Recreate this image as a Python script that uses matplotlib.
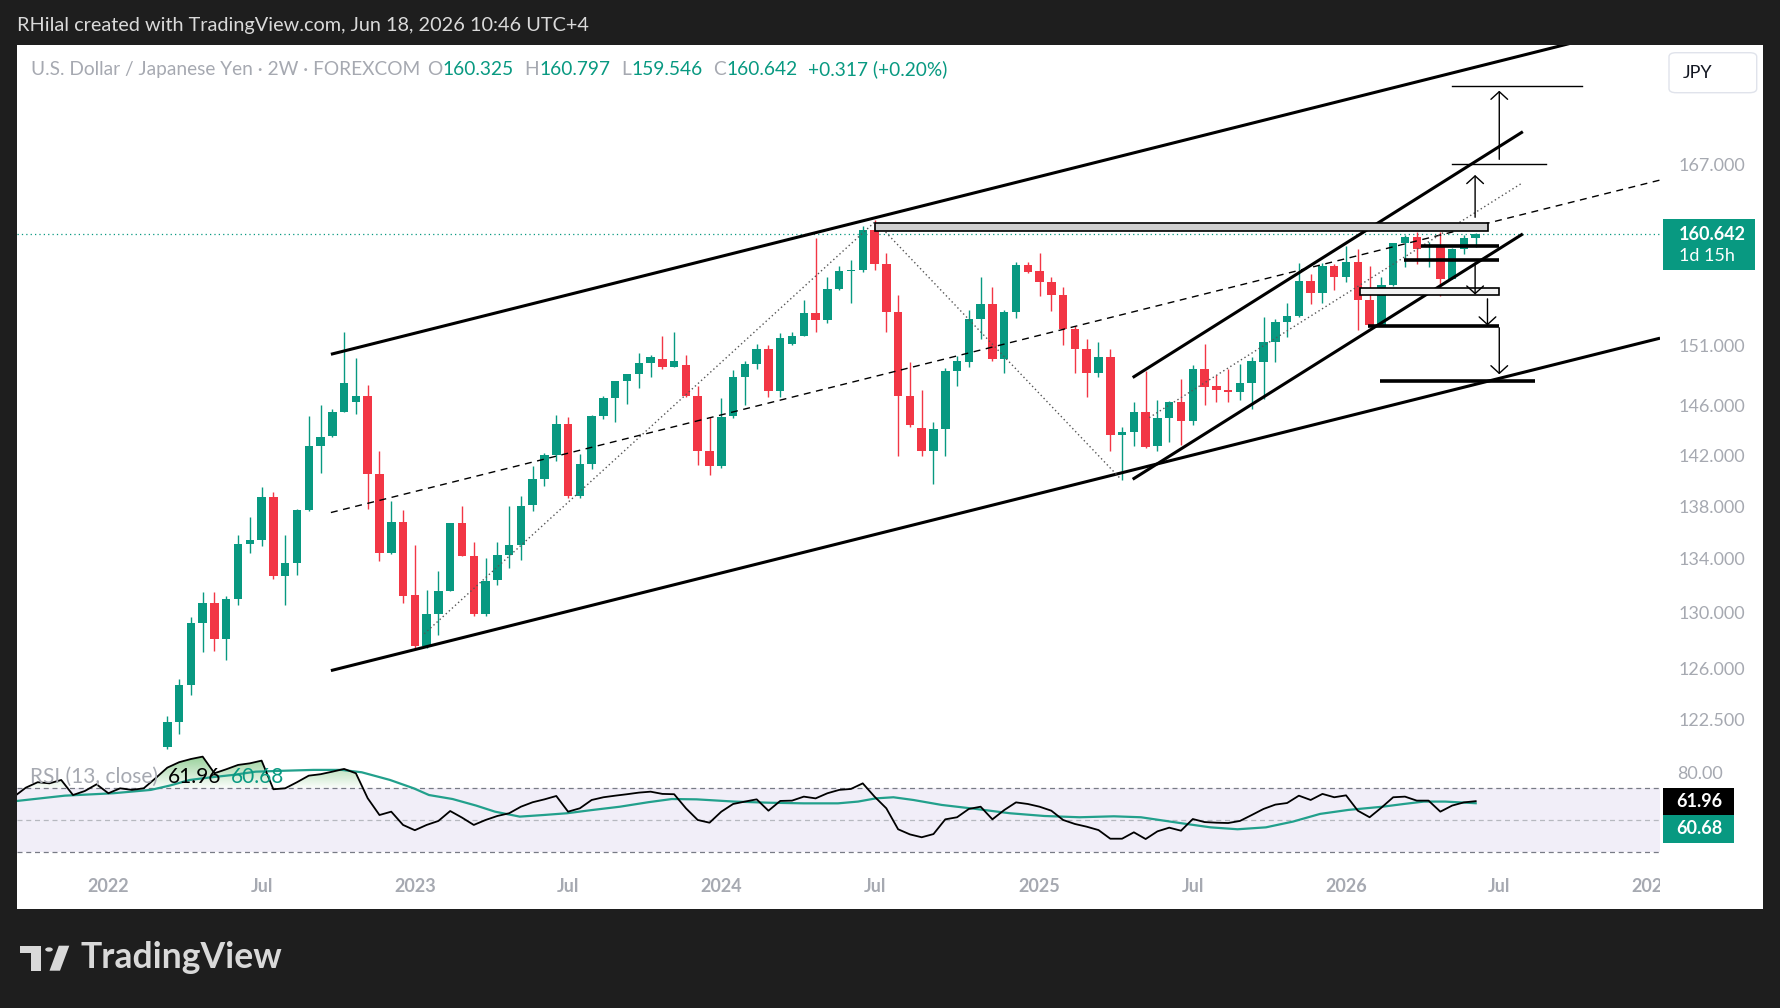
import numpy as np
import pandas as pd
import matplotlib
matplotlib.use("Agg")
import matplotlib.pyplot as plt
from matplotlib.patches import Rectangle, FancyBboxPatch, Polygon, Circle
from matplotlib.path import Path
from matplotlib.ticker import NullLocator
from matplotlib.colors import to_rgb

plt.rcParams["font.family"] = ["Lato", "DejaVu Sans"]

W, H = 1781, 1008
GREEN = "#089981"
RED = "#f23645"
TEAL = "#22a08c"
GREY_TXT = "#a6a9b1"

# ---- data: USDJPY 2W candles, first bar starts 2022-03-14 ----
FIRST_BAR = "2022-03-14"

opens = [120.6, 122.3, 124.9, 129.3, 130.7, 128.1, 131.0, 135.1, 135.4, 138.7,
         132.7, 133.7, 137.7, 142.7, 143.5, 145.5, 146.3, 146.8, 140.5, 134.4,
         136.8, 131.3, 127.6, 129.9, 131.6, 136.7, 134.2, 129.9, 132.4, 134.3,
         135.0, 138.1, 140.1, 142.0, 144.5, 138.8, 141.3, 145.1, 146.6, 148.0,
         148.6, 149.5, 149.8, 149.2, 149.3, 146.8, 142.3, 141.1, 145.1, 148.3,
         149.4, 150.7, 147.2, 151.1, 151.8, 153.7, 153.1, 155.8, 157.4, 157.5,
         161.05, 158.0, 153.8, 146.8, 144.2, 142.3, 144.1, 148.8, 149.6, 153.2,
         154.5, 149.8, 153.8, 157.9, 157.4, 156.45, 155.3, 152.4, 150.7, 148.7,
         150.0, 143.6, 143.85, 145.5, 142.7, 145.0, 146.3, 144.7, 149.0, 147.6,
         147.3, 147.1, 147.8, 149.6, 151.3, 153.0, 153.5, 156.5, 155.5, 157.85,
         156.9, 158.2, 154.9, 152.7, 156.2, 159.9, 160.4, 159.6, 159.5, 156.7,
         159.35, 160.325]
highs = [122.7, 125.3, 129.7, 131.5, 131.55, 131.25, 135.8, 137.2, 139.5, 139.1,
         135.8, 137.8, 145.1, 146.0, 145.7, 152.1, 149.9, 147.7, 142.3, 138.4,
         137.7, 135.0, 131.7, 133.1, 136.7, 138.05, 135.3, 134.05, 135.3, 138.0,
         138.8, 141.1, 142.2, 145.2, 145.05, 142.1, 145.2, 146.8, 148.0, 148.6,
         150.3, 150.15, 151.8, 152.1, 150.15, 147.6, 145.05, 146.6, 148.9, 149.7,
         151.1, 151.0, 152.0, 152.1, 154.9, 160.3, 156.9, 157.85, 158.4, 161.4,
         161.9, 159.0, 155.3, 149.6, 147.3, 144.65, 149.1, 150.1, 154.0, 156.9,
         156.0, 154.0, 158.2, 158.2, 159.0, 156.9, 156.0, 152.6, 151.5, 151.3,
         150.65, 144.25, 146.3, 148.8, 146.4, 146.35, 148.15, 149.3, 151.1, 148.5,
         149.0, 149.4, 150.0, 153.4, 153.2, 154.6, 158.1, 157.1, 158.1, 158.0,
         159.6, 159.35, 157.8, 156.9, 159.9, 160.6, 160.9, 160.0, 160.9, 159.4,
         160.6, 160.797]
lows = [120.5, 121.5, 124.2, 127.2, 127.3, 126.6, 130.6, 134.4, 134.95, 132.5,
        130.6, 132.8, 137.6, 140.6, 143.45, 145.45, 145.3, 137.8, 133.8, 134.35,
        130.7, 127.5, 127.5, 128.4, 131.6, 134.2, 129.8, 129.8, 132.05, 133.3,
        133.9, 137.6, 139.6, 141.5, 138.6, 138.6, 140.9, 144.9, 144.65, 146.1,
        147.4, 148.3, 149.0, 149.2, 146.7, 141.2, 140.45, 141.0, 145.0, 146.0,
        149.0, 146.7, 146.7, 151.0, 151.8, 152.1, 152.9, 155.7, 154.6, 157.3,
        157.5, 152.1, 141.9, 144.25, 141.95, 139.75, 141.9, 147.6, 149.2, 151.5,
        149.65, 148.7, 153.35, 157.2, 155.2, 153.9, 151.0, 148.7, 146.7, 148.3,
        142.3, 140.0, 142.7, 142.6, 142.3, 143.05, 142.8, 144.4, 146.0, 146.3,
        146.3, 146.4, 145.7, 146.5, 149.6, 151.7, 153.4, 154.5, 154.6, 155.7,
        156.4, 152.25, 152.6, 152.6, 156.1, 157.7, 158.0, 157.7, 155.2, 156.7,
        158.9, 159.546]
closes = [122.3, 124.9, 129.3, 130.7, 128.1, 131.0, 135.1, 135.4, 138.7, 132.7,
          133.7, 137.7, 142.7, 143.45, 145.5, 147.8, 146.8, 140.5, 134.4, 136.8,
          131.25, 127.6, 129.95, 131.6, 136.7, 134.2, 129.9, 132.35, 134.3, 135.0,
          138.05, 140.1, 142.0, 144.5, 138.8, 141.3, 145.1, 146.6, 148.0, 148.6,
          149.5, 150.0, 149.2, 149.7, 146.8, 142.3, 141.1, 145.05, 148.3, 149.4,
          150.65, 147.2, 151.6, 151.75, 153.7, 153.1, 155.8, 157.4, 157.5, 161.05,
          158.0, 153.8, 146.8, 144.4, 142.3, 144.1, 148.8, 149.65, 153.2, 154.5,
          149.8, 153.8, 157.9, 157.3, 156.4, 155.25, 152.4, 150.65, 148.7, 150.0,
          143.6, 143.85, 145.5, 142.65, 145.0, 146.3, 144.7, 149.0, 147.5, 147.25,
          147.1, 147.8, 149.65, 151.3, 153.0, 153.5, 156.5, 155.5, 157.85, 156.9,
          158.2, 154.9, 152.7, 156.2, 159.9, 160.4, 159.35, 159.7, 156.7, 159.35,
          160.325, 160.642]

# RSI(13) read per bar, starting 13 bars before the first candle
RSI_FIRST_BAR = -13
rsi_values = [64.8, 70.4, 73.8, 73.1, 75.2, 65.8, 68.3, 72.5, 66.9, 70.0,
              69.0, 70.0, 76.3, 82.9, 86.3, 88.3, 89.8, 79.4, 81.9, 84.6,
              85.6, 87.3, 69.4, 70.0, 73.8, 77.9, 78.8, 80.4, 82.1, 79.4,
              63.8, 53.3, 55.4, 47.1, 43.8, 47.1, 49.6, 55.8, 51.7, 47.1,
              50.2, 52.7, 54.4, 58.5, 61.3, 63.1, 65.2, 55.4, 57.5, 62.7,
              64.4, 65.4, 66.3, 67.3, 67.9, 66.5, 66.3, 57.5, 50.2, 48.5,
              55.4, 60.2, 61.7, 63.1, 56.0, 62.1, 62.3, 64.8, 63.7, 66.9,
              69.0, 69.6, 73.1, 64.8, 57.5, 44.4, 41.2, 39.4, 41.4, 50.6,
              51.9, 57.1, 58.5, 50.6, 56.4, 61.2, 60.2, 58.5, 56.0, 50.2,
              47.7, 46.0, 43.9, 38.5, 38.5, 42.5, 38.3, 43.1, 45.4, 43.5,
              50.8, 48.9, 48.5, 48.3, 49.6, 53.3, 57.1, 59.8, 60.8, 65.4,
              62.7, 66.5, 64.4, 65.6, 56.0, 51.9, 57.9, 64.4, 64.8, 62.3,
              62.3, 55.4, 59.2, 61.2, 61.96]

# RSI-based moving average, read at these bar positions
rsi_ma_bars = [-12.75, -8.7, -4.6, -1.4, 0.2, 1.9, 3.5, 5.5, 7.5, 10, 12.4, 14.8,
               16.5, 18.9, 20.9, 22.2, 24.2, 26.2, 27.8, 29.9, 31.9, 33.9, 35.9,
               38.4, 40.8, 42.8, 44.9, 48.1, 51.0, 54.0, 56.9, 58.6, 60.1, 61.6,
               63.3, 65.7, 68.6, 71.5, 74.4, 77.4, 80.3, 82.6, 86.1, 88.5, 90.8,
               93.2, 95.5, 97.8, 100.2, 103.1, 104.9, 106.6, 108.4, 111]
rsi_ma_values = [62.1, 65.4, 66.9, 69.0, 71.7, 75.2, 76.7, 78.3, 80.4, 81.0, 81.5,
                 81.5, 80.0, 75.2, 70.0, 65.8, 63.3, 59.2, 55.4, 52.3, 53.3, 54.4,
                 56.3, 58.5, 61.3, 63.3, 63.1, 61.7, 61.0, 60.6, 60.6, 61.7, 63.7,
                 64.4, 62.7, 59.6, 57.1, 54.4, 52.7, 51.9, 52.5, 51.9, 48.1, 45.6,
                 44.4, 45.6, 49.2, 54.0, 56.5, 58.5, 60.2, 61.7, 61.7, 60.68]

price_ticks = [167, 151, 146, 142, 138, 134, 130, 126, 122.5]

# ---- drawings on the chart, as (bar, price) anchors ----
upper_channel = [(13.88, 150.23), (121.55, 179.5)]
lower_channel = [(13.88, 125.88), (126.64, 151.59)]
mid_channel = [(13.88, 137.51), (126.64, 165.6)]
inner_upper = [(81.9, 148.29), (115.0, 170.14)]
inner_lower = [(81.9, 140.09), (115.0, 160.69)]
zigzag = [[(21.8, 128.5), (60.03, 161.77)],
          [(60.45, 161.4), (80.9, 140.1)],
          [(83.3, 145.0), (114.9, 165.3)]]
thick_levels = [(106.4, 113.0, 159.64), (104.9, 113.0, 158.32),
                (101.9, 113.0, 152.61), (102.9, 116.0, 148.0)]
thin_levels = [(109.0, 120.0, 174.54), (109.0, 117.0, 167.07)]
arrows = [(113.0, 167.53, 174.08), (110.95, 162.19, 166.07),
          (110.95, 158.1, 155.33), (112.0, 154.96, 152.67),
          (113.0, 152.47, 148.56)]
zones = [(60.03, 112.02, 160.96, 161.7, "#cfcfcf"),
         (101.2, 113.0, 155.25, 155.93, "#f2f2f2")]


def fx(x):
    return x / W


def fy(y):
    return 1 - y / H


def px_rect(x0, y0, x1, y1):
    return [fx(x0), fy(y1), (x1 - x0) / W, (y1 - y0) / H]


fig = plt.figure(figsize=(W / 100, H / 100), dpi=100, facecolor="#1e1e1e")
fig.patches.append(Rectangle((fx(17), fy(909)), (1763 - 17) / W, (909 - 45) / H,
                             transform=fig.transFigure, facecolor="white",
                             edgecolor="none", zorder=-5))

# ---- price pane ----
ax = fig.add_axes(px_rect(17, 45, 1660, 909))
ax.patch.set_visible(False)
for s in ax.spines.values():
    s.set_visible(False)
ax.set_yscale("log")

o = np.array(opens)
h = np.array(highs)
l = np.array(lows)
c = np.array(closes)
x = np.arange(len(c))
cols = np.where(c >= o, GREEN, RED)
ax.vlines(x, l, h, colors=cols, lw=1.0, zorder=3)
ax.bar(x, np.maximum(np.abs(c - o), 0.07), 0.72, bottom=np.minimum(o, c),
       color=cols, lw=0, zorder=4)

# last price line
ax.axhline(closes[-1], color=GREEN, lw=0.9, ls=(0, (1, 2.5)), zorder=2)

# channels and drawings
for pts, lw, ls in [(upper_channel, 2.2, "-"), (lower_channel, 2.2, "-"),
                    (inner_upper, 2.2, "-"), (inner_lower, 2.2, "-"),
                    (mid_channel, 1.0, (0, (5, 4)))]:
    (x0, y0), (x1, y1) = pts
    ax.plot([x0, x1], [y0, y1], color="black", lw=lw, ls=ls,
            solid_capstyle="butt", zorder=5)
for (x0, y0), (x1, y1) in zigzag:
    ax.plot([x0, x1], [y0, y1], color="#555555", lw=1.0, ls=(0, (1, 2)), zorder=5)
for x0, x1, y in thick_levels:
    ax.plot([x0, x1], [y, y], color="black", lw=2.6, solid_capstyle="butt", zorder=6)
for x0, x1, y in thin_levels:
    ax.plot([x0, x1], [y, y], color="black", lw=1.0, zorder=6)
for xa, y0, y1 in arrows:
    ax.annotate("", xy=(xa, y1), xytext=(xa, y0),
                arrowprops=dict(arrowstyle="->,head_length=0.55,head_width=0.6",
                                color="black", lw=1.0, shrinkA=0, shrinkB=0,
                                mutation_scale=10), zorder=6)
for x0, x1, y0, y1, fc in zones:
    ax.add_patch(Rectangle((x0, y0), x1 - x0, y1 - y0, facecolor=fc,
                           edgecolor="black", lw=1.2, zorder=5))

ax.set_xlim(-12.751, 126.636)
ax.set_ylim(110.172, 178.588)
ax.yaxis.tick_right()
ax.set_yticks(price_ticks)
ax.set_yticklabels([f"{v:.3f}" for v in price_ticks])
ax.yaxis.set_minor_locator(NullLocator())
ax.tick_params(axis="y", length=0, pad=13, labelsize=13, labelcolor=GREY_TXT)
ax.set_xticks([])

# time axis labels (first bar of January / July)
idx = np.arange(-13, 128)
dates = pd.Timestamp(FIRST_BAR) + pd.to_timedelta(14 * idx, unit="D")
for k in range(1, len(idx)):
    d, prev = dates[k], dates[k - 1]
    if d.month != prev.month and d.month in (1, 7):
        lab = str(d.year) if d.month == 1 else "Jul"
        ax.text(idx[k], (909 - 886) / 864, lab, transform=ax.get_xaxis_transform(),
                ha="center", va="center", fontsize=13, color=GREY_TXT,
                fontweight="bold", clip_on=True)

# ---- RSI pane ----
rax = fig.add_axes(px_rect(17, 740, 1660, 860))
rax.patch.set_visible(False)
for s in rax.spines.values():
    s.set_visible(False)
rsi_x = np.arange(RSI_FIRST_BAR, RSI_FIRST_BAR + len(rsi_values))
rsi = np.array(rsi_values)
rax.axhspan(30, 70, color="#f1eef8", lw=0, zorder=0)
rax.axhline(70, color="#787b86", lw=0.9, ls=(0, (4, 3)), zorder=1)
rax.axhline(50, color="#b6b8bf", lw=0.9, ls=(0, (4, 3)), zorder=1)
rax.axhline(30, color="#787b86", lw=0.9, ls=(0, (4, 3)), zorder=1)

over = rax.fill_between(rsi_x, rsi, 70, where=rsi > 70, interpolate=True,
                        facecolor="none", edgecolor="none")
grad = np.zeros((100, 2, 4))
grad[..., :3] = to_rgb("#4caf50")
grad[..., 3] = np.linspace(0.03, 0.65, 100)[:, None]
im = rax.imshow(grad, extent=(rsi_x[0], rsi_x[-1], 70, 92), origin="lower",
                aspect="auto", zorder=1, interpolation="bilinear")
im.set_clip_path(Path.make_compound_path(*over.get_paths()), transform=rax.transData)

rax.plot(rsi_ma_bars, rsi_ma_values, color=TEAL, lw=1.6, zorder=2)
rax.plot(rsi_x, rsi, color="black", lw=1.3, zorder=3)
rax.set_xlim(-12.751, 126.636)
rax.set_ylim(25.19, 100.19)
rax.set_xticks([])
rax.yaxis.tick_right()
rax.set_yticks([80])
rax.set_yticklabels(["80.00"])
rax.tick_params(axis="y", length=0, pad=12, labelsize=13, labelcolor=GREY_TXT)

renderer = fig.canvas.get_renderer()


def text_run(x_px, y_px, parts, size):
    xp = x_px
    for s, color, gap in parts:
        t = fig.text(fx(xp), fy(y_px), s, color=color, fontsize=size,
                     ha="left", va="center")
        xp += t.get_window_extent(renderer).width + gap


# header bar and legend texts
fig.text(fx(17), fy(25.5), "RHilal created with TradingView.com, Jun 18, 2026 10:46 UTC+4",
         color="#dadada", fontsize=14.3, ha="left", va="center")
text_run(31, 69.5, [("U.S. Dollar / Japanese Yen · 2W · FOREXCOM", GREY_TXT, 7),
                    ("O", GREY_TXT, 0), ("160.325", GREEN, 11),
                    ("H", GREY_TXT, 0), ("160.797", GREEN, 11),
                    ("L", GREY_TXT, 0), ("159.546", GREEN, 11),
                    ("C", GREY_TXT, 0), ("160.642", GREEN, 11),
                    ("+0.317 (+0.20%)", GREEN, 0)], 13.8)
text_run(30, 777, [("RSI (13, close)", GREY_TXT, 10), ("61.96", "black", 10),
                   ("60.68", GREEN, 0)], 15)

# right scale badges
fig.patches.append(FancyBboxPatch((fx(1669), fy(92.7)), (1756.7 - 1669) / W, 40 / H,
                                  boxstyle="round,pad=0,rounding_size=0.004",
                                  transform=fig.transFigure, facecolor="white",
                                  edgecolor="#e0e3eb", lw=1.0))
fig.text(fx(1683), fy(72.5), "JPY", color="#131722", fontsize=13, ha="left", va="center")
fig.patches.append(Rectangle((fx(1663.3), fy(270)), (1755 - 1663.3) / W, 50.7 / H,
                             transform=fig.transFigure, facecolor=GREEN, edgecolor="none"))
fig.text(fx(1679), fy(234), f"{closes[-1]:.3f}", color="white", fontsize=13,
         ha="left", va="center", fontweight="bold")
fig.text(fx(1679), fy(256), "1d 15h", color="white", fontsize=13, ha="left", va="center")
fig.patches.append(Rectangle((fx(1663.3), fy(815)), 71 / W, 26.7 / H,
                             transform=fig.transFigure, facecolor="black", edgecolor="none"))
fig.patches.append(Rectangle((fx(1663.3), fy(843.3)), 71 / W, 28.3 / H,
                             transform=fig.transFigure, facecolor=GREEN, edgecolor="none"))
fig.text(fx(1699), fy(801.7), f"{rsi_values[-1]:.2f}", color="white", fontsize=13,
         ha="center", va="center", fontweight="bold")
fig.text(fx(1699), fy(829), f"{rsi_ma_values[-1]:.2f}", color="white", fontsize=13,
         ha="center", va="center", fontweight="bold")

# TradingView logo
logo = "#d9d9d9"
fig.patches.append(Polygon([(fx(20), fy(945.7)), (fx(40.7), fy(945.7)), (fx(40.7), fy(970.7)),
                            (fx(30.7), fy(970.7)), (fx(30.7), fy(953.3)), (fx(20), fy(953.3))],
                           closed=True, transform=fig.transFigure, facecolor=logo, edgecolor="none"))
fig.patches.append(Circle((fx(49), fy(949.5)), 3.8 / W, transform=fig.transFigure,
                          facecolor=logo, edgecolor="none"))
fig.patches.append(Polygon([(fx(49.5), fy(970.7)), (fx(60), fy(970.7)), (fx(69.3), fy(945.7)),
                            (fx(58.8), fy(945.7))], closed=True, transform=fig.transFigure,
                           facecolor=logo, edgecolor="none"))
fig.text(fx(81), fy(958), "TradingView", color=logo, fontsize=25.6, fontweight="bold",
         ha="left", va="center")

fig.savefig("out.png", dpi=100, facecolor=fig.get_facecolor())
